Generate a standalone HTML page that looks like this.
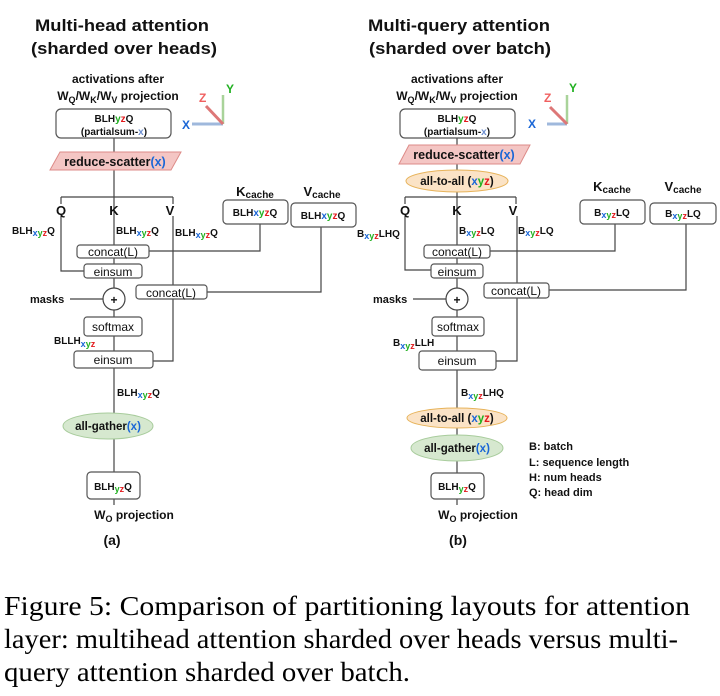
<!DOCTYPE html>
<html><head><meta charset="utf-8"><style>
html,body{margin:0;padding:0;background:#fff;}
svg{display:block;}
text{font-family:"Liberation Sans",sans-serif;font-weight:bold;fill:#111;}
.b{fill:#1a66d6}.g{fill:#20b020}.r{fill:#e3191c}
.ln{stroke:#444;stroke-width:1.2;fill:none}
.bx{fill:#fff;stroke:#555;stroke-width:1.2}
.cap{font-family:"Liberation Serif",serif;font-weight:normal;font-size:27px;fill:#000}
</style></head><body>
<svg width="720" height="696" viewBox="0 0 720 696" xmlns="http://www.w3.org/2000/svg">
<!-- Titles -->
<text x="122" y="31" font-size="17" text-anchor="middle" textLength="174" lengthAdjust="spacingAndGlyphs">Multi-head attention</text>
<text x="124" y="54" font-size="17" text-anchor="middle" textLength="186" lengthAdjust="spacingAndGlyphs">(sharded over heads)</text>
<text x="459" y="31" font-size="17" text-anchor="middle" textLength="182" lengthAdjust="spacingAndGlyphs">Multi-query attention</text>
<text x="460" y="54" font-size="17" text-anchor="middle" textLength="182" lengthAdjust="spacingAndGlyphs">(sharded over batch)</text>

<!-- ===== LEFT ===== -->
<text x="118" y="83" font-size="12" text-anchor="middle">activations after</text>
<text x="118" y="100" font-size="12" text-anchor="middle">W<tspan font-size="9" dy="3">Q</tspan><tspan dy="-3">/W</tspan><tspan font-size="9" dy="3">K</tspan><tspan dy="-3">/W</tspan><tspan font-size="9" dy="3">V</tspan><tspan dy="-3"> projection</tspan></text>
<!-- axes -->
<g>
<line x1="192" y1="124" x2="223" y2="124" stroke="#9fb8dc" stroke-width="3"/>
<line x1="223" y1="95" x2="223" y2="124" stroke="#a9d39a" stroke-width="2.5"/>
<line x1="206" y1="106" x2="223" y2="124" stroke="#d77" stroke-width="3"/>
<text x="182" y="129" font-size="12" class="b">X</text>
<text x="226" y="93" font-size="12" class="g">Y</text>
<text x="199" y="102" font-size="12" fill="#f06060" style="fill:#f06060">Z</text>
</g>
<g>
<line x1="547" y1="124" x2="567" y2="124" stroke="#9fb8dc" stroke-width="3"/>
<line x1="567" y1="95" x2="567" y2="124" stroke="#a9d39a" stroke-width="2.5"/>
<line x1="550" y1="107" x2="567" y2="124" stroke="#d77" stroke-width="3"/>
<text x="528" y="128" font-size="12" class="b">X</text>
<text x="569" y="92" font-size="12" class="g">Y</text>
<text x="544" y="102" font-size="12" style="fill:#f06060">Z</text>
</g>

<!-- left lines -->
<line class="ln" x1="114" y1="138" x2="114" y2="351"/>
<line class="ln" x1="61" y1="197" x2="173" y2="197"/>
<line class="ln" x1="61" y1="197" x2="61" y2="204"/>
<line class="ln" x1="173" y1="197" x2="173" y2="204"/>
<polyline class="ln" points="61,216 61,271 84,271"/>
<polyline class="ln" points="173,216 173,361 153,361"/>
<polyline class="ln" points="149,251 260,251 260,224"/>
<polyline class="ln" points="207,292 321,292 321,226"/>
<line class="ln" x1="70" y1="299" x2="103" y2="299"/>
<line class="ln" x1="114" y1="368" x2="114" y2="472"/>
<line class="ln" x1="114" y1="499" x2="114" y2="505"/>

<rect class="bx" x="56" y="109" width="115" height="29" rx="5"/>
<text x="114" y="122" font-size="10" text-anchor="middle">BLH<tspan class="g">y</tspan><tspan class="r">z</tspan>Q</text>
<text x="114" y="135" font-size="10" text-anchor="middle">(partialsum-<tspan style="fill:#6d8fd0">x</tspan>)</text>
<polygon points="60,152 181,152 171,170 50,170" fill="#f4c6c4" stroke="#dd8b88" stroke-width="1"/>
<text x="115" y="166" font-size="12.5" text-anchor="middle">reduce-scatter<tspan class="b">(x)</tspan></text>

<text x="61" y="215" font-size="13" text-anchor="middle">Q</text>
<text x="114" y="215" font-size="13" text-anchor="middle">K</text>
<text x="170" y="215" font-size="13" text-anchor="middle">V</text>
<text x="12" y="234" font-size="10">BLH<tspan class="b" font-size="9" dy="2">x</tspan><tspan class="g" font-size="9">y</tspan><tspan class="r" font-size="9">z</tspan><tspan dy="-2">Q</tspan></text>
<text x="116" y="234" font-size="10">BLH<tspan class="b" font-size="9" dy="2">x</tspan><tspan class="g" font-size="9">y</tspan><tspan class="r" font-size="9">z</tspan><tspan dy="-2">Q</tspan></text>
<text x="175" y="236" font-size="10">BLH<tspan class="b" font-size="9" dy="2">x</tspan><tspan class="g" font-size="9">y</tspan><tspan class="r" font-size="9">z</tspan><tspan dy="-2">Q</tspan></text>

<text x="255" y="196" font-size="13" text-anchor="middle">K<tspan font-size="10" dy="2">cache</tspan></text>
<rect class="bx" x="223" y="200" width="65" height="24" rx="4"/>
<text x="255" y="216" font-size="10" text-anchor="middle">BLH<tspan class="b">x</tspan><tspan class="g">y</tspan><tspan class="r">z</tspan>Q</text>
<text x="322" y="196" font-size="13" text-anchor="middle">V<tspan font-size="10" dy="2">cache</tspan></text>
<rect class="bx" x="291" y="203" width="65" height="24" rx="4"/>
<text x="323" y="219" font-size="10" text-anchor="middle">BLH<tspan class="b">x</tspan><tspan class="g">y</tspan><tspan class="r">z</tspan>Q</text>

<rect class="bx" x="77" y="245" width="72" height="13" rx="3"/>
<text x="113" y="256" font-size="12" font-weight="normal" style="font-weight:normal" text-anchor="middle">concat(L)</text>
<rect class="bx" x="84" y="264" width="58" height="14" rx="3"/>
<text x="113" y="276" font-size="12" style="font-weight:normal" text-anchor="middle">einsum</text>
<circle cx="114" cy="299" r="11" fill="#fff" stroke="#444" stroke-width="1.2"/>
<text x="114" y="304" font-size="12" text-anchor="middle">+</text>
<text x="30" y="303" font-size="11">masks</text>
<rect class="bx" x="136" y="285" width="71" height="14" rx="3"/>
<text x="171" y="297" font-size="12" style="font-weight:normal" text-anchor="middle">concat(L)</text>
<rect class="bx" x="84" y="317" width="58" height="19" rx="3"/>
<text x="113" y="331" font-size="12" style="font-weight:normal" text-anchor="middle">softmax</text>
<text x="54" y="344" font-size="10">BLLH<tspan class="b" font-size="9" dy="3">x</tspan><tspan class="g" font-size="9">y</tspan><tspan class="r" font-size="9">z</tspan></text>
<rect class="bx" x="74" y="351" width="79" height="17" rx="3"/>
<text x="113" y="364" font-size="12" style="font-weight:normal" text-anchor="middle">einsum</text>

<text x="117" y="396" font-size="10">BLH<tspan class="b" font-size="9" dy="2">x</tspan><tspan class="g" font-size="9">y</tspan><tspan class="r" font-size="9">z</tspan><tspan dy="-2">Q</tspan></text>
<ellipse cx="108" cy="426" rx="45" ry="13" fill="#d6e8cf" stroke="#a8cc9c"/>
<text x="108" y="430" font-size="11.5" text-anchor="middle">all-gather<tspan class="b">(x)</tspan></text>
<rect class="bx" x="87" y="472" width="53" height="27" rx="4"/>
<text x="113" y="490" font-size="10" text-anchor="middle">BLH<tspan class="g" font-size="9" dy="2">y</tspan><tspan class="r" font-size="9">z</tspan><tspan dy="-2">Q</tspan></text>
<text x="134" y="519" font-size="12" text-anchor="middle">W<tspan font-size="9" dy="3">O</tspan><tspan dy="-3"> projection</tspan></text>
<text x="112" y="545" font-size="14" text-anchor="middle">(a)</text>

<!-- ===== RIGHT ===== -->
<text x="457" y="83" font-size="12" text-anchor="middle">activations after</text>
<text x="457" y="100" font-size="12" text-anchor="middle">W<tspan font-size="9" dy="3">Q</tspan><tspan dy="-3">/W</tspan><tspan font-size="9" dy="3">K</tspan><tspan dy="-3">/W</tspan><tspan font-size="9" dy="3">V</tspan><tspan dy="-3"> projection</tspan></text>

<line class="ln" x1="457" y1="138" x2="457" y2="351"/>
<line class="ln" x1="405" y1="197" x2="516" y2="197"/>
<line class="ln" x1="405" y1="197" x2="405" y2="204"/>
<line class="ln" x1="516" y1="197" x2="516" y2="204"/>
<polyline class="ln" points="405,216 405,270 431,270"/>
<polyline class="ln" points="517,216 517,361 496,361"/>
<polyline class="ln" points="490,251 615,251 615,224"/>
<polyline class="ln" points="549,290 686,290 686,224"/>
<line class="ln" x1="413" y1="299" x2="446" y2="299"/>
<line class="ln" x1="457" y1="370" x2="457" y2="473"/>
<line class="ln" x1="457" y1="499" x2="457" y2="505"/>

<rect class="bx" x="400" y="109" width="115" height="29" rx="5"/>
<text x="457" y="122" font-size="10" text-anchor="middle">BLH<tspan class="g">y</tspan><tspan class="r">z</tspan>Q</text>
<text x="457" y="135" font-size="10" text-anchor="middle">(partialsum-<tspan style="fill:#6d8fd0">x</tspan>)</text>
<polygon points="409,145 530,145 520,164 399,164" fill="#f4c6c4" stroke="#dd8b88" stroke-width="1"/>
<text x="464" y="159" font-size="12.5" text-anchor="middle">reduce-scatter<tspan class="b">(x)</tspan></text>
<ellipse cx="457" cy="181" rx="51" ry="11" fill="#fbe3c6" stroke="#e7b35a"/>
<text x="457" y="185" font-size="11.5" text-anchor="middle">all-to-all (<tspan class="b">x</tspan><tspan class="g">y</tspan><tspan class="r">z</tspan>)</text>

<text x="405" y="215" font-size="13" text-anchor="middle">Q</text>
<text x="457" y="215" font-size="13" text-anchor="middle">K</text>
<text x="513" y="215" font-size="13" text-anchor="middle">V</text>
<text x="357" y="237" font-size="10">B<tspan class="b" font-size="9" dy="2">x</tspan><tspan class="g" font-size="9">y</tspan><tspan class="r" font-size="9">z</tspan><tspan dy="-2">LHQ</tspan></text>
<text x="459" y="234" font-size="10">B<tspan class="b" font-size="9" dy="2">x</tspan><tspan class="g" font-size="9">y</tspan><tspan class="r" font-size="9">z</tspan><tspan dy="-2">LQ</tspan></text>
<text x="518" y="234" font-size="10">B<tspan class="b" font-size="9" dy="2">x</tspan><tspan class="g" font-size="9">y</tspan><tspan class="r" font-size="9">z</tspan><tspan dy="-2">LQ</tspan></text>

<text x="612" y="191" font-size="13" text-anchor="middle">K<tspan font-size="10" dy="2">cache</tspan></text>
<rect class="bx" x="580" y="200" width="65" height="24" rx="4"/>
<text x="612" y="216" font-size="10" text-anchor="middle">B<tspan class="b" dy="2" font-size="9">x</tspan><tspan class="g" font-size="9">y</tspan><tspan class="r" font-size="9">z</tspan><tspan dy="-2">LQ</tspan></text>
<text x="683" y="191" font-size="13" text-anchor="middle">V<tspan font-size="10" dy="2">cache</tspan></text>
<rect class="bx" x="650" y="203" width="66" height="21" rx="4"/>
<text x="683" y="217" font-size="10" text-anchor="middle">B<tspan class="b" dy="2" font-size="9">x</tspan><tspan class="g" font-size="9">y</tspan><tspan class="r" font-size="9">z</tspan><tspan dy="-2">LQ</tspan></text>

<rect class="bx" x="424" y="245" width="66" height="13" rx="3"/>
<text x="457" y="256" font-size="12" style="font-weight:normal" text-anchor="middle">concat(L)</text>
<rect class="bx" x="431" y="264" width="52" height="14" rx="3"/>
<text x="457" y="276" font-size="12" style="font-weight:normal" text-anchor="middle">einsum</text>
<circle cx="457" cy="299" r="11" fill="#fff" stroke="#444" stroke-width="1.2"/>
<text x="457" y="304" font-size="12" text-anchor="middle">+</text>
<text x="373" y="303" font-size="11">masks</text>
<rect class="bx" x="484" y="283" width="65" height="15" rx="3"/>
<text x="516" y="295" font-size="12" style="font-weight:normal" text-anchor="middle">concat(L)</text>
<rect class="bx" x="432" y="317" width="52" height="19" rx="3"/>
<text x="458" y="331" font-size="12" style="font-weight:normal" text-anchor="middle">softmax</text>
<text x="393" y="346" font-size="10">B<tspan class="b" font-size="9" dy="3">x</tspan><tspan class="g" font-size="9">y</tspan><tspan class="r" font-size="9">z</tspan><tspan dy="-3">LLH</tspan></text>
<rect class="bx" x="419" y="351" width="77" height="19" rx="3"/>
<text x="457" y="365" font-size="12" style="font-weight:normal" text-anchor="middle">einsum</text>

<text x="461" y="396" font-size="10">B<tspan class="b" font-size="9" dy="3">x</tspan><tspan class="g" font-size="9">y</tspan><tspan class="r" font-size="9">z</tspan><tspan dy="-3">LHQ</tspan></text>
<ellipse cx="457" cy="418" rx="50" ry="10" fill="#fbe3c6" stroke="#e7b35a"/>
<text x="457" y="422" font-size="11.5" text-anchor="middle">all-to-all (<tspan class="b">x</tspan><tspan class="g">y</tspan><tspan class="r">z</tspan>)</text>
<ellipse cx="457" cy="448" rx="46" ry="13" fill="#d6e8cf" stroke="#a8cc9c"/>
<text x="457" y="452" font-size="11.5" text-anchor="middle">all-gather<tspan class="b">(x)</tspan></text>
<rect class="bx" x="431" y="473" width="53" height="26" rx="4"/>
<text x="457" y="490" font-size="10" text-anchor="middle">BLH<tspan class="g" font-size="9" dy="2">y</tspan><tspan class="r" font-size="9">z</tspan><tspan dy="-2">Q</tspan></text>
<text x="478" y="519" font-size="12" text-anchor="middle">W<tspan font-size="9" dy="3">O</tspan><tspan dy="-3"> projection</tspan></text>
<text x="458" y="545" font-size="14" text-anchor="middle">(b)</text>

<text x="529" y="450" font-size="11">B: batch</text>
<text x="529" y="466" font-size="11">L: sequence length</text>
<text x="529" y="481" font-size="11">H: num heads</text>
<text x="529" y="496" font-size="11">Q: head dim</text>

<!-- caption -->
<text class="cap" x="4" y="615" textLength="686" lengthAdjust="spacingAndGlyphs">Figure 5: Comparison of partitioning layouts for attention</text>
<text class="cap" x="4" y="648" textLength="674" lengthAdjust="spacingAndGlyphs">layer: multihead attention sharded over heads versus multi-</text>
<text class="cap" x="4" y="681" textLength="406" lengthAdjust="spacingAndGlyphs">query attention sharded over batch.</text>
</svg>
</body></html>
